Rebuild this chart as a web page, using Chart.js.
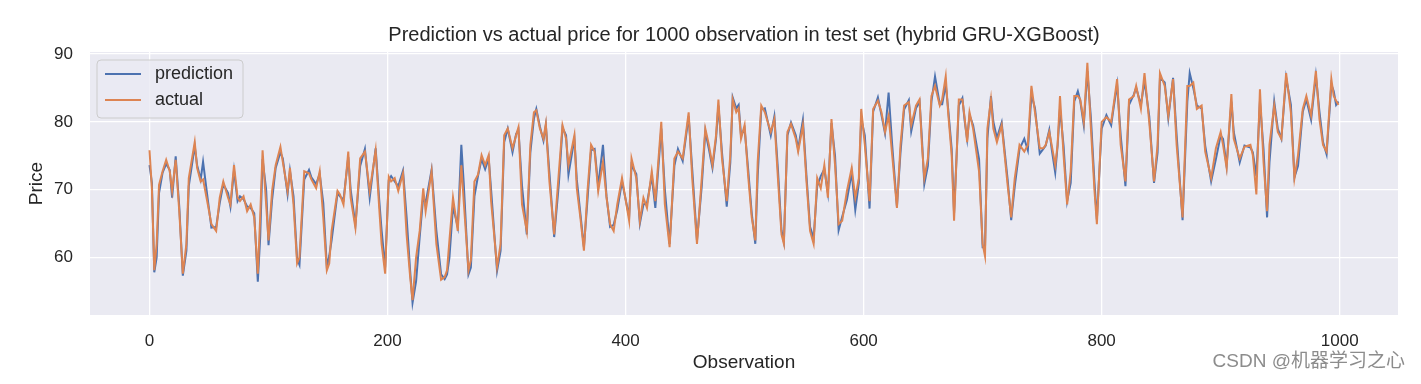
<!DOCTYPE html>
<html>
<head>
<meta charset="utf-8">
<script src="https://cdn.jsdelivr.net/npm/chart.js@4.4.1/dist/chart.umd.min.js"></script>
<style>
  html, body { margin: 0; padding: 0; background: #fff; }
  #wrap { width: 1421px; height: 384px; }
</style>
</head>
<body>
<div id="wrap"><canvas id="chart" width="1421" height="384"></canvas></div>
<script>
// observation index, with actual / predicted price
const obs = [0,2,4,6,8,11,14,17,19,22,25,28,31,33,38,40,43,45,49,52,56,59,62,66,68,71,74,76,79,82,85,88,91,93,95,98,100,103,106,110,112,116,118,121,124,126,130,134,136,140,143,146,149,151,153,158,160,163,167,169,173,177,181,185,190,193,195,198,201,203,206,209,213,216,219,221,224,227,230,232,237,241,245,248,250,252,255,259,262,264,268,270,273,276,279,282,285,287,292,295,298,301,305,308,310,313,317,320,323,325,328,331,333,336,340,344,347,350,352,357,359,362,365,368,371,374,377,381,384,387,390,393,397,403,405,409,412,415,418,422,425,430,433,437,441,444,448,453,456,460,464,467,470,473,476,478,481,485,488,490,493,495,497,500,503,506,509,511,514,517,522,525,528,531,533,536,539,543,545,549,552,555,558,561,564,567,570,573,576,579,582,586,590,593,596,598,601,605,608,612,615,618,621,624,628,631,634,638,640,644,647,649,651,654,657,660,664,666,669,671,674,676,680,683,685,687,689,692,697,700,702,704,707,709,712,716,721,724,727,731,735,738,741,744,748,751,753,756,758,761,763,765,768,771,774,777,780,782,785,788,791,794,796,800,804,808,810,813,816,820,823,827,829,833,836,840,844,847,849,853,856,860,863,868,872,874,877,880,884,887,892,896,900,902,905,909,911,916,920,925,927,930,933,936,939,941,945,948,951,955,959,962,965,969,972,976,980,983,986,989,993,995,997,999];

const actual = [75.8,70.2,58.1,62.0,70.7,72.7,74.4,72.7,69.8,74.4,66.8,57.6,62.0,71.7,77.0,73.2,71.2,71.5,67.8,64.9,63.9,68.8,71.2,68.8,67.8,73.6,68.8,68.3,69.0,66.8,67.8,65.9,57.6,66.0,75.8,67.8,62.5,69.8,73.6,76.3,74.1,69.8,73.2,67.8,59.1,60.0,72.7,72.4,71.5,70.2,72.7,65.9,58.1,59.1,63.9,69.8,69.3,67.8,75.6,68.8,64.4,74.6,75.6,69.8,75.8,67.3,62.0,57.6,71.9,71.2,71.7,69.8,72.4,63.4,57.1,53.7,60.0,63.9,70.2,66.8,72.7,62.0,56.7,57.1,58.1,62.5,68.8,63.9,73.6,68.3,58.1,59.6,71.2,72.2,75.1,73.6,75.1,68.3,58.6,62.0,78.0,79.0,76.1,78.0,79.2,67.8,63.9,76.6,81.4,81.7,79.0,77.5,79.7,71.2,63.4,72.7,79.5,77.5,73.6,78.0,70.2,65.9,61.0,69.8,76.6,75.6,69.8,74.1,68.8,64.9,63.9,67.8,71.7,65.4,74.6,71.7,65.4,68.8,67.3,72.7,68.3,80.0,67.8,61.5,74.6,75.6,74.6,81.4,71.7,62.0,71.7,79.0,76.6,73.6,78.0,83.3,74.6,68.3,75.1,83.3,81.4,82.0,77.5,79.5,72.0,65.9,62.5,74.1,82.4,81.4,78.5,80.4,71.7,63.4,62.0,78.5,79.7,77.5,75.6,79.5,71.2,63.9,62.0,71.7,70.2,73.6,68.8,80.4,73.6,64.9,65.4,69.8,73.2,68.8,71.7,81.9,76.6,68.3,81.9,83.1,81.4,78.5,80.9,75.1,67.3,76.6,82.4,82.9,79.5,82.4,83.3,76.6,71.7,74.6,83.8,85.3,82.4,83.3,86.7,81.4,75.1,65.4,83.3,83.3,80.4,77.0,81.4,79.0,72.7,62.0,60.2,79.0,83.3,79.0,77.0,79.5,70.7,65.9,71.7,76.6,75.6,76.6,85.3,81.4,76.1,76.1,76.6,78.5,76.6,73.6,76.6,83.8,75.1,67.8,72.7,83.8,83.8,83.3,80.0,88.7,79.0,69.8,64.9,80.0,80.7,80.0,82.4,86.3,76.6,71.2,83.3,83.8,85.3,81.9,87.2,80.0,71.2,76.6,87.2,85.3,80.9,86.3,76.6,65.9,85.3,85.3,85.8,81.9,82.4,75.6,71.7,76.1,78.5,76.6,73.2,84.1,77.5,74.6,76.3,76.6,75.1,69.3,84.8,74.1,66.8,76.6,82.4,78.5,77.5,87.2,81.4,71.7,75.1,81.9,83.8,80.9,87.5,80.4,76.6,75.6,86.3,83.8,83.1,82.5];

const prediction = [73.6,71.0,57.8,60.0,69.5,72.5,73.8,72.9,68.8,74.9,67.5,57.3,61.0,70.5,76.4,73.6,71.5,74.1,68.5,64.4,64.5,68.0,70.8,69.5,67.5,72.8,68.3,69.0,68.6,67.5,67.3,66.5,56.4,63.0,74.5,70.0,61.8,68.5,73.2,75.5,74.6,69.3,72.8,69.0,59.8,58.9,71.5,72.9,71.8,70.8,72.3,68.0,58.6,60.2,62.5,69.5,69.0,68.5,74.8,70.0,64.8,73.5,76.0,68.8,76.1,68.5,64.0,58.5,71.4,72.0,71.2,70.5,72.8,66.0,58.0,53.3,56.5,63.0,69.0,68.0,72.9,64.0,57.5,56.8,57.5,60.0,67.5,64.5,76.6,71.0,57.5,58.5,69.0,72.0,74.5,73.0,74.6,70.0,58.0,61.0,77.0,79.0,75.5,78.2,78.8,70.5,63.4,75.5,80.5,81.9,79.3,77.2,79.5,72.5,63.0,71.0,79.1,78.0,72.2,77.5,71.5,66.5,61.5,68.5,75.8,76.0,70.5,76.6,69.0,64.5,64.8,67.0,71.2,66.0,73.6,72.3,65.0,67.8,68.0,72.0,67.3,79.0,70.0,62.0,73.5,76.0,74.2,80.8,73.0,62.5,70.5,78.6,76.0,73.2,77.5,82.4,75.5,67.5,74.0,83.6,82.0,82.5,78.0,79.0,73.0,66.5,62.0,72.0,81.8,82.0,78.0,80.8,73.0,64.0,62.3,78.0,79.9,78.0,76.0,80.3,72.0,64.5,62.8,70.5,72.0,73.0,69.5,79.8,75.0,64.0,66.0,68.5,72.5,67.0,71.0,80.5,78.0,67.2,81.5,83.6,81.0,78.3,84.3,76.6,67.5,75.5,81.8,83.2,78.6,82.0,83.0,77.5,70.8,73.5,83.0,86.7,82.6,82.6,85.5,82.0,76.0,66.5,82.4,83.5,80.0,77.4,81.0,79.5,74.5,61.5,61.5,77.5,83.8,80.0,77.6,79.9,71.5,65.5,70.5,76.0,77.5,75.8,84.0,82.0,75.3,76.0,76.5,78.8,76.0,72.5,76.5,82.0,76.5,68.3,71.0,83.0,84.5,83.1,79.5,87.5,80.5,71.0,65.6,79.0,81.0,79.5,82.0,85.5,78.0,70.5,82.5,84.0,85.0,82.5,86.0,80.8,71.0,75.5,86.5,85.8,80.5,86.5,78.0,65.5,83.0,87.2,85.0,82.4,82.0,76.5,71.2,74.5,78.0,77.5,73.5,83.0,78.5,74.0,76.5,76.2,75.5,72.0,83.0,76.0,65.9,74.0,83.0,79.0,77.5,86.5,82.5,71.8,73.5,81.5,83.3,80.3,86.8,81.5,77.0,75.2,85.5,84.5,82.5,83.0];

const xTicks = [0, 200, 400, 600, 800, 1000];
const yTicks = [60, 70, 80, 90];
const titleText = 'Prediction vs actual price for 1000 observation in test set (hybrid GRU-XGBoost)';

const FONT = '"Liberation Sans", Arial, sans-serif';
const INK = '#262626';

const bgPlugin = {
  id: 'bg',
  beforeDraw(chart) {
    const { ctx, chartArea: a } = chart;
    ctx.save();
    ctx.fillStyle = '#fff';
    ctx.fillRect(0, 0, chart.width, chart.height);
    ctx.fillStyle = '#eaeaf2';
    ctx.fillRect(a.left, a.top, a.right - a.left, a.bottom - a.top);
    ctx.restore();
  }
};

// title centred over the axes, like matplotlib does
const axTitle = {
  id: 'axTitle',
  afterDraw(chart) {
    const { ctx, chartArea: a } = chart;
    ctx.save();
    ctx.font = '20px ' + FONT;
    ctx.fillStyle = INK;
    ctx.textAlign = 'center';
    ctx.textBaseline = 'middle';
    ctx.fillText(titleText, (a.left + a.right) / 2, a.top - 17);
    ctx.restore();
  }
};

// matplotlib-style legend box in the upper left of the axes
const boxLegend = {
  id: 'boxLegend',
  afterDatasetsDraw(chart) {
    const { ctx, chartArea: a } = chart;
    const x = a.left + 7, y = a.top + 8, w = 146, h = 58;
    ctx.save();
    ctx.beginPath();
    ctx.roundRect(x, y, w, h, 4);
    ctx.fillStyle = 'rgba(234,234,242,0.8)';
    ctx.fill();
    ctx.strokeStyle = '#cccccc';
    ctx.lineWidth = 1;
    ctx.stroke();
    ctx.font = '18px ' + FONT;
    ctx.textBaseline = 'middle';
    chart.data.datasets.forEach((ds, i) => {
      const ly = y + 14 + i * 26;
      ctx.strokeStyle = ds.borderColor;
      ctx.lineWidth = 2;
      ctx.beginPath();
      ctx.moveTo(x + 8, ly);
      ctx.lineTo(x + 44, ly);
      ctx.stroke();
      ctx.fillStyle = INK;
      ctx.fillText(ds.label, x + 58, ly);
    });
    ctx.restore();
  }
};

const watermark = {
  id: 'watermark',
  afterDraw(chart) {
    const { ctx } = chart;
    ctx.save();
    ctx.font = '19px ' + FONT + ', "Noto Sans CJK SC"';
    ctx.fillStyle = '#8c8c8c';
    ctx.textAlign = 'right';
    ctx.textBaseline = 'middle';
    ctx.fillText('CSDN @机器学习之心', 1405, 362);
    ctx.restore();
  }
};

new Chart(document.getElementById('chart'), {
  type: 'line',
  data: {
    datasets: [
      {
        label: 'prediction',
        data: obs.map((o, i) => ({ x: o, y: prediction[i] })),
        borderColor: '#4c72b0',
        borderWidth: 2,
        pointRadius: 0,
        order: 2
      },
      {
        label: 'actual',
        data: obs.map((o, i) => ({ x: o, y: actual[i] })),
        borderColor: '#dd8452',
        borderWidth: 2,
        pointRadius: 0,
        order: 1
      }
    ]
  },
  options: {
    responsive: false,
    animation: false,
    devicePixelRatio: 1,
    layout: { padding: { left: 0, right: 23, top: 52, bottom: 0 } },
    plugins: {
      legend: { display: false },
      tooltip: { enabled: false },
      title: { display: false }
    },
    scales: {
      x: {
        type: 'linear',
        min: -50,
        max: 1049,
        afterBuildTicks: s => { s.ticks = xTicks.map(v => ({ value: v })); },
        afterFit: s => { s.height = 69; },
        ticks: { color: INK, font: { family: FONT, size: 17 }, padding: 16, maxRotation: 0, autoSkip: false, callback: v => String(v) },
        grid: { color: '#ffffff', lineWidth: 1.3, drawTicks: false },
        border: { display: false },
        title: { display: true, text: 'Observation', color: INK, font: { family: FONT, size: 19 }, padding: { top: 0, bottom: 10 } }
      },
      y: {
        min: 51.5,
        max: 90.3,
        afterBuildTicks: s => { s.ticks = yTicks.map(v => ({ value: v })); },
        afterFit: s => { s.width = 90; },
        ticks: { color: INK, font: { family: FONT, size: 17 }, padding: 17 },
        grid: { color: '#ffffff', lineWidth: 1.3, drawTicks: false },
        border: { display: false },
        title: { display: true, text: 'Price', color: INK, font: { family: FONT, size: 19 }, padding: { top: 25, bottom: 0 } }
      }
    }
  },
  plugins: [bgPlugin, axTitle, boxLegend, watermark]
});
</script>
</body>
</html>
